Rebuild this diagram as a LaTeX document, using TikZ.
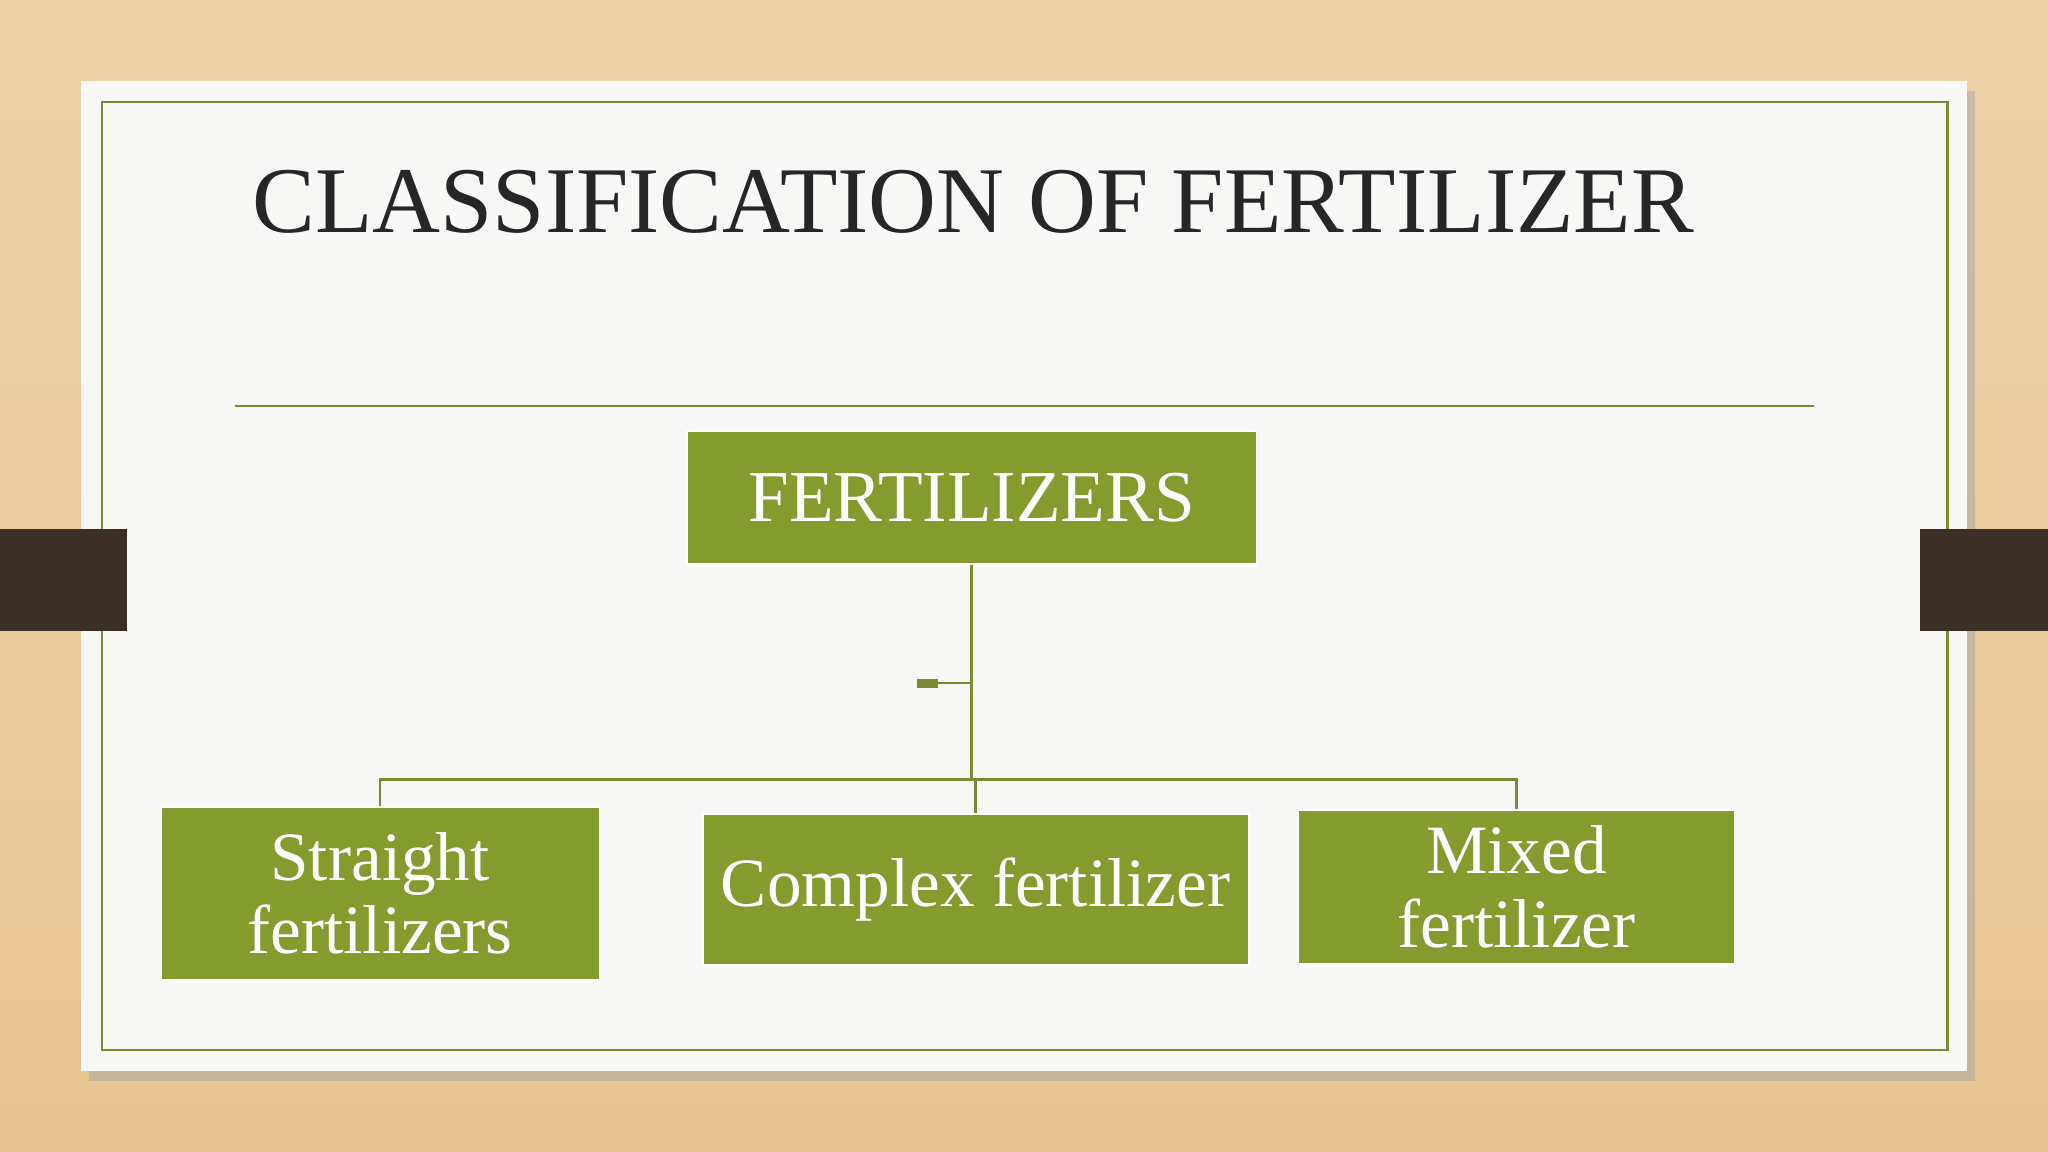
\documentclass[tikz,border=0pt]{standalone}
\usepackage{fontspec}
\setmainfont{Liberation Serif}
\definecolor{wood}{RGB}{232,198,146}
\definecolor{olive}{RGB}{132,155,46}
\definecolor{oline}{RGB}{120,140,50}
\definecolor{tab}{RGB}{58,48,40}
\definecolor{card}{RGB}{248,248,246}
\tikzset{x=1pt,y=-1pt,
 gbox/.style={draw=white,line width=1.5pt,fill=olive,text=white,align=center,inner sep=0pt,font=\fontsize{53}{56}\selectfont},
 conn/.style={draw=oline,line width=2pt}}
\begin{document}
\begin{tikzpicture}
\useasboundingbox (0,0) rectangle (1568,882);
\shade[top color=wood!80!white,bottom color=wood] (0,0) rectangle (1568,882);
\fill[black!35,opacity=0.5] (68,70) rectangle (1512,828);
\fill[card] (62,62) rectangle (1506,820);
\draw[oline,line width=2pt] (78,78) rectangle (1491,804);
\fill[tab] (0,405) rectangle (97,483);
\fill[tab] (1470,405) rectangle (1568,483);
\node[anchor=base west,inner sep=0pt,font=\fontsize{72}{74}\selectfont,text=black!85] (title) at (193,178) {CLASSIFICATION OF FERTILIZER};
\draw[oline,line width=1.5pt] (180,311) -- (1389,311);
\node[gbox,minimum width=436pt,minimum height=102pt,font=\fontsize{56}{58}\selectfont] (top) at (744,381) {FERTILIZERS};
\node[gbox,minimum width=336pt,minimum height=132pt] (s) at (291,684) {Straight\\fertilizers};
\node[gbox,minimum width=418pt,minimum height=116pt] (c) at (747,681) {Complex fertilizer};
\node[gbox,minimum width=334pt,minimum height=118pt] (m) at (1161,679) {Mixed\\fertilizer};
\coordinate (j) at (744,597);
\coordinate (tk) at (710,523);
\draw[conn] (top.south) -- (j);
\draw[conn] (s.north) |- (j);
\draw[conn] (m.north) |- (j);
\draw[conn] (c.north) -- (c.north |- j);
\draw[conn] (tk) -- (tk -| top.south);
\fill[oline] (702,520) rectangle (718,527);
\end{tikzpicture}
\end{document}
